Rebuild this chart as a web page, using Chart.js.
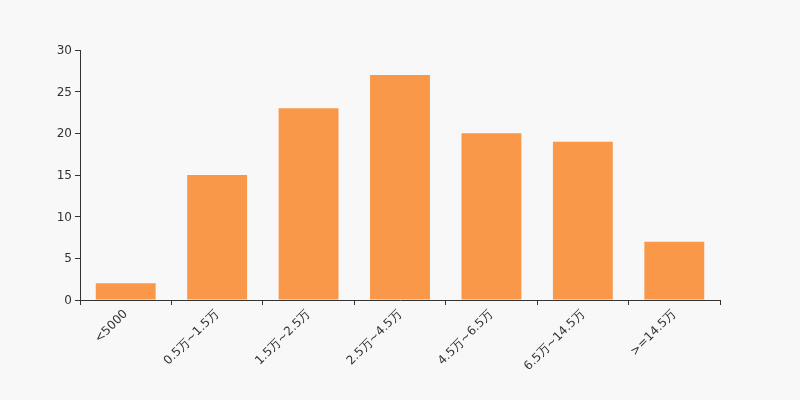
<!DOCTYPE html>
<html><head><meta charset="utf-8">
<script src="https://cdn.jsdelivr.net/npm/chart.js@4/dist/chart.umd.min.js"></script>
<style>html,body{margin:0;padding:0;background:#f8f8f8;}#wrap{width:800px;height:400px;}</style>
</head><body><div id="wrap"><canvas id="c" width="800" height="400"></canvas></div>
<script>
const categories = ["<5000","0.5万~1.5万","1.5万~2.5万","2.5万~4.5万","4.5万~6.5万","6.5万~14.5万",">=14.5万"];
const values = [2, 15, 23, 27, 20, 19, 7];
const yTicks = [0, 5, 10, 15, 20, 25, 30];

const font = {family: "'DejaVu Sans', sans-serif", size: 12};
new Chart(document.getElementById('c'), {
  type: 'bar',
  data: {labels: categories, datasets: [{data: values, backgroundColor: '#f89848', barPercentage: 0.655, categoryPercentage: 1}]},
  options: {
    responsive: false, animation: false,
    layout: {padding: {left: 0, right: 80, top: 50, bottom: 0}},
    plugins: {legend: {display: false}, tooltip: {enabled: false}},
    scales: {
      x: {
        grid: {display: true, drawOnChartArea: false, drawTicks: true, tickLength: 5, color: '#333', offset: true},
        border: {color: '#333', width: 1},
        ticks: {color: '#333', font: font, maxRotation: 45, minRotation: 45, autoSkip: false, padding: 2},
        afterFit: s => { s.height = 100; }
      },
      y: {
        min: 0, max: 30,
        afterBuildTicks: s => { s.ticks = yTicks.map(v => ({value: v})); },
        grid: {display: true, drawOnChartArea: false, drawTicks: true, tickLength: 5, color: '#333'},
        border: {color: '#333', width: 1},
        ticks: {color: '#333', font: font, padding: 3, labelOffset: 1},
        afterFit: s => { s.width = 80; }
      }
    }
  }
});
</script></body></html>
